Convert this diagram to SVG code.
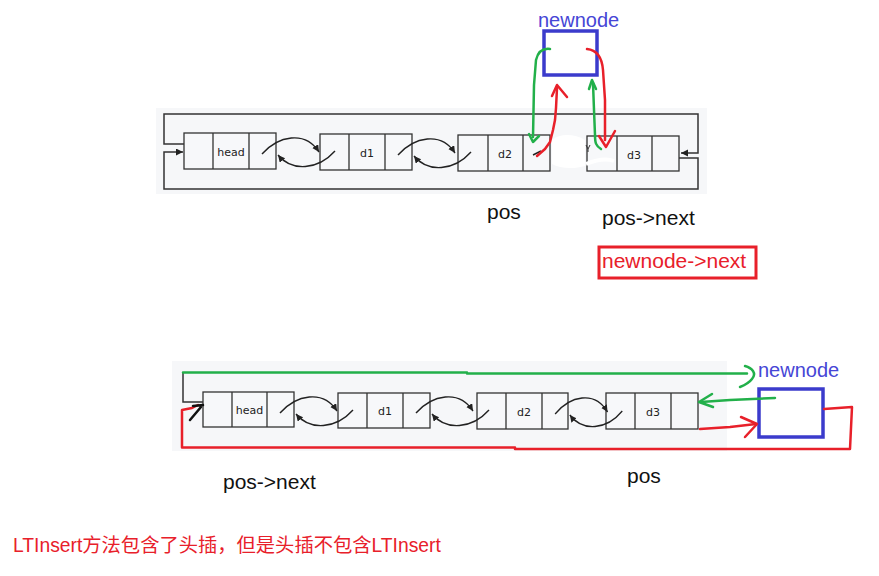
<svg xmlns="http://www.w3.org/2000/svg" width="879" height="576" viewBox="0 0 879 576">
<style>
.bg{fill:#f6f7f9}
.nd{fill:#f7f8fa;stroke:#333;stroke-width:1.3}
.dv{fill:none;stroke:#333;stroke-width:1.3}
.nt{font-family:"DejaVu Sans",sans-serif;font-size:11px;fill:#222;text-anchor:middle}
.fr{fill:none;stroke:#333;stroke-width:1.5}
.lk{fill:none;stroke:#222;stroke-width:1.4}
.g{fill:none;stroke:#22b04a;stroke-width:2.5;stroke-linecap:round;stroke-linejoin:round}
.r{fill:none;stroke:#e8202a;stroke-width:2.5;stroke-linecap:round;stroke-linejoin:round}
.bl{fill:none;stroke:#3b3bcc;stroke-width:3.5}
.lb{font-family:"Liberation Sans",Arial,sans-serif;font-size:21px;fill:#111}
.blt{font-family:"Liberation Sans",Arial,sans-serif;font-size:20px;fill:#4646d6}
.rt{font-family:"Liberation Sans",Arial,sans-serif;font-size:21px;fill:#e8202a}
.note{font-family:"Liberation Sans","Noto Sans CJK SC",sans-serif;font-size:19.3px;fill:#e8202a}
</style>
<defs>
<marker id="ah" markerUnits="userSpaceOnUse" markerWidth="8" markerHeight="8" refX="7" refY="3.5" orient="auto"><path d="M0,0 L7,3.5 L0,7 z" fill="#222"/></marker>
<g id="lk"><path class="lk" d="M-14,3 C2,-15 29,-21 43,1" marker-end="url(#ah)"/><path class="lk" d="M59,0 C42,19 16,21 2,4" marker-end="url(#ah)"/></g>
</defs>
<rect width="879" height="576" fill="#fff"/>
<rect class="bg" x="156" y="108" width="551" height="86"/>
<rect class="bg" x="172" y="361" width="555" height="90"/>

<g id="top-head"><rect class="nd" x="184" y="133" width="92" height="36"/><path class="dv" d="M213,133V169M249,133V169"/><text class="nt" x="231" y="156">head</text></g>
<g id="top-d1"><rect class="nd" x="320" y="134" width="92" height="36"/><path class="dv" d="M349,134V170M385,134V170"/><text class="nt" x="367" y="157">d1</text></g>
<g id="top-d2"><rect class="nd" x="458" y="135" width="92" height="36"/><path class="dv" d="M488,135V171M523,135V171"/><text class="nt" x="505" y="158">d2</text></g>
<path d="M552,140 C560,133 575,134 585,140 L585,166 C575,169 560,169 552,164 Z" fill="#fff"/>
<g id="top-d3"><rect class="nd" x="587" y="136" width="92" height="35"/><path class="dv" d="M617,136V171M652,136V171"/><text class="nt" x="634" y="159">d3</text></g>
<path d="M586,164 C596,160 606,158 614,161" stroke="#fff" stroke-width="4" fill="none"/>
<path d="M586,145 L588,149 L590,145 M588,149 V152" stroke="#333" stroke-width="1" fill="none"/>

<g id="top-newnode"><rect class="bl" x="544" y="31" width="53" height="44"/><text class="blt" x="538" y="27">newnode</text></g>

<g id="bot-head"><rect class="nd" x="203" y="392" width="91" height="35"/><path class="dv" d="M232,392V427M267,392V427"/><text class="nt" x="249.5" y="414">head</text></g>
<g id="bot-d1"><rect class="nd" x="338" y="393" width="92" height="35"/><path class="dv" d="M367,393V428M403,393V428"/><text class="nt" x="385" y="415">d1</text></g>
<g id="bot-d2"><rect class="nd" x="477" y="393" width="91" height="36"/><path class="dv" d="M506,393V429M542,393V429"/><text class="nt" x="524" y="416">d2</text></g>
<g id="bot-d3"><rect class="nd" x="606" y="393" width="92" height="36"/><path class="dv" d="M635,393V429M671,393V429"/><text class="nt" x="653" y="416">d3</text></g>

<g id="bot-newnode"><rect class="bl" x="759" y="389" width="64" height="48"/><text class="blt" x="758" y="377">newnode</text></g>

<g id="connectors">
<path class="fr" d="M184,144 H164 V114 H698 V153 H681" marker-end="url(#ah)"/>
<path class="fr" d="M679,158 H698 V189 H164 V152 H183" marker-end="url(#ah)"/>
<use href="#lk" transform="translate(276,151)"/>
<use href="#lk" transform="translate(412,152)"/>
<path class="lk" d="M533,155 L541,151"/>
<path class="fr" d="M203,402 H183 V373"/>
<use href="#lk" transform="translate(294,410)"/>
<use href="#lk" transform="translate(430,410)"/>
<use href="#lk" transform="translate(568,411) scale(0.92,1)"/>

<path class="g" d="M550,49 C542,48 538,52 536,60 L534,85 L533,137"/>
<path class="g" d="M529,134 L533,142 L539,136"/>
<path class="r" d="M537,156 L545,149 L550,142 L553,130 L555,120 L556,108 L557,88"/>
<path class="r" d="M552,96 L557,85 L567,97"/>
<path class="r" d="M587,49 C597,50 602,58 603,70 L605,100 L605,140"/>
<path class="r" d="M599,136 L606,147 L615,131"/>
<path class="g" d="M601,149 C596,146 595,143 595,135 L594,110 L593,83"/>
<path class="g" d="M589,89 L592,80 L596,89"/>

<path class="g" d="M183,372.5 H467 M467,373.5 H747" stroke-width="3"/>
<path class="g" d="M745,366 C752,368 757,373 752,379 C749,383 745,385 740,387"/>
<path class="g" d="M775,398 L730,400 L701,402"/>
<path class="g" d="M712,394 L699,402 L713,407"/>
<path class="r" d="M700,429 L730,427 L756,424"/>
<path class="r" d="M741,417 L757,424 L745,437"/>
<path class="r" d="M824,409 L852,407 L850,449 L515,449 M515,447.5 L182,447.5 L182,410 L192,408 L198,405" stroke-width="3"/>
<path d="M193,406 L203,405 M201,407 L190,420" stroke="#111" stroke-width="2.5" fill="none" stroke-linecap="round"/>
</g>

<text class="lb" x="487" y="219">pos</text>
<text class="lb" x="602" y="225">pos-&gt;next</text>
<g id="red-label"><rect x="599" y="247" width="157" height="31" fill="none" stroke="#e8202a" stroke-width="3"/><text class="rt" x="602" y="268">newnode-&gt;next</text></g>
<text class="lb" x="223" y="489">pos-&gt;next</text>
<text class="lb" x="627" y="483">pos</text>
<text class="note" x="13" y="552">LTInsert方法包含了头插，但是头插不包含LTInsert</text>
</svg>
